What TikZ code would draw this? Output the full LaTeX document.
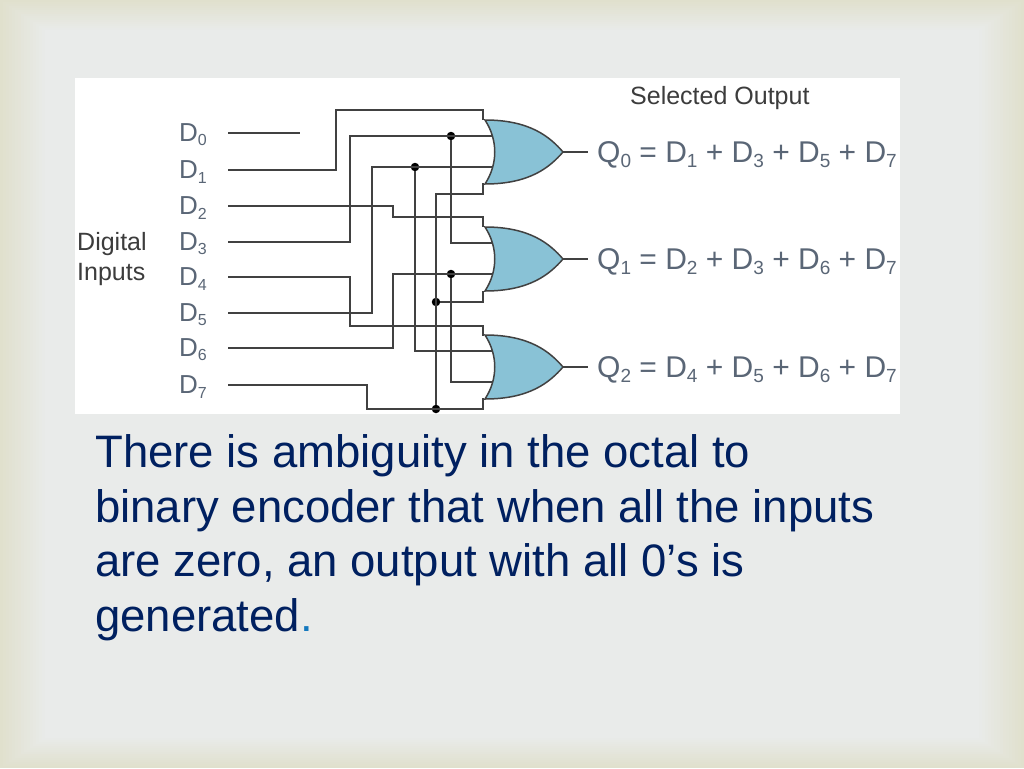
\documentclass[tikz,border=0pt]{standalone}
\usepackage{fontspec}
\setmainfont{Liberation Sans}
\usepackage{tikz}
\usetikzlibrary{positioning}
\usetikzlibrary{calc}
\definecolor{slideink}{RGB}{0,32,96}
\definecolor{slidedot}{RGB}{20,120,190}
\definecolor{wireink}{RGB}{65,65,65}
\definecolor{labelink}{RGB}{90,102,118}
\definecolor{sideink}{RGB}{60,60,60}
\definecolor{gatefill}{RGB}{137,194,214}
\definecolor{edgeband}{RGB}{224,224,205}
\definecolor{slideback}{RGB}{233,235,234}
\tikzset{
  wire/.style={draw=wireink, line width=2pt},
  gatebody/.style={draw=wireink, line width=1.5pt, fill=gatefill},
  dotnode/.style={circle, fill=black, inner sep=0pt, minimum size=8.5pt},
  inlabel/.style={text=labelink, font=\fontsize{26}{26}\selectfont, inner sep=0pt, anchor=west},
  outlabel/.style={text=labelink, font=\fontsize{30}{30}\selectfont, inner ysep=0pt, inner xsep=9pt, anchor=west},
  sidelabel/.style={text=sideink, font=\fontsize{25}{25}\selectfont, inner sep=0pt, anchor=west},
  bodytext/.style={text=slideink, font=\fontsize{45.5}{55}\selectfont, inner sep=0pt, anchor=west}
}
\newcommand{\orgate}[2]{% #1 name, #2 top y
  \draw[gatebody] (485,#2) .. controls (530,#2) and (550,#2+17) .. (563,#2+32)
    .. controls (550,#2+47) and (530,#2+64) .. (485,#2+64)
    .. controls (498,#2+44) and (498,#2+20) .. (485,#2) -- cycle;
  \coordinate (#1) at (563,#2+32);
}
\newcommand{\insub}[1]{\raisebox{-0.3ex}{\fontsize{16}{16}\selectfont #1}}
\newcommand{\outsub}[1]{\raisebox{-0.3ex}{\fontsize{19}{19}\selectfont #1}}
\begin{document}
\begin{tikzpicture}[x=1pt,y=-1pt]
  \useasboundingbox (0,0) rectangle (1024,768);
  % slide border fading inwards
  \foreach \i [evaluate=\i as \p using {\i*100/15}] in {0,...,15}{
    \fill[slideback!\p!edgeband] ({\i*3},{\i*2}) rectangle ({1024-\i*3},{768-\i*2});
  }
  \fill[white] (75,78) rectangle (900,414);

  % inputs
  \foreach \name/\y/\n in {d0/133/0,d1/170/1,d2/206/2,d3/242/3,d4/277/4,d5/313/5,d6/348/6,d7/385/7}{
    \node[inlabel] (l\name) at (179,\y+2) {D\insub{\n}};
    \coordinate (\name) at (228,\y);
  }
  \coordinate (d0e) at (300,133);
  \draw[wire] (d0) -- (d0e);

  % junctions
  \node[dotnode] (j1) at (451,136) {};
  \node[dotnode] (j2) at (415,167) {};
  \node[dotnode] (j3) at (451,274) {};
  \node[dotnode] (j4) at (436,302) {};
  \node[dotnode] (j5) at (436,409) {};

  % wires
  \draw[wire] (d1) -| (336,110) -| (483,120);
  \draw[wire] (d3) -| (350,136) -- (492,136);
  \draw[wire] (d5) -| (372,167) -- (492,167);
  \draw[wire] (d7) -| (367,409) -- (483,409) -- (483,398);
  \draw[wire] (d2) -| (393,217) -| (483,227);
  \draw[wire] (d6) -| (393,274) -- (492,274);
  \draw[wire] (d4) -| (350,326) -| (483,336);
  \draw[wire] (j1) |- (492,243);
  \draw[wire] (j2) |- (492,351);
  \draw[wire] (j3) |- (492,382);
  \draw[wire] (j5) |- (483,194) -- (483,183);
  \draw[wire] (j4) -- (483,302) -- (483,291);

  % gates
  \orgate{g0}{120}
  \orgate{g1}{227}
  \orgate{g2}{335}

  % outputs
  \node[outlabel] (q0) at (588,155) {Q\outsub{0} = D\outsub{1} + D\outsub{3} + D\outsub{5} + D\outsub{7}};
  \node[outlabel] (q1) at (588,262) {Q\outsub{1} = D\outsub{2} + D\outsub{3} + D\outsub{6} + D\outsub{7}};
  \node[outlabel] (q2) at (588,370) {Q\outsub{2} = D\outsub{4} + D\outsub{5} + D\outsub{6} + D\outsub{7}};
  \draw[wire] (g0) -- (g0-|q0.west);
  \draw[wire] (g1) -- (g1-|q1.west);
  \draw[wire] (g2) -- (g2-|q2.west);

  \node[sidelabel] (sel) at (630,98) {Selected Output};
  \node[sidelabel] (dig) at (77,244) {Digital};
  \node[sidelabel] (inp) at (77,274) {Inputs};

  % slide text
  \node[bodytext] (t1) at (95,456) {There is ambiguity in the octal to};
  \node[bodytext] (t2) at (95,511) {binary encoder that when all the inputs};
  \node[bodytext] (t3) at (95,565) {are zero, an output with all 0’s is};
  \node[bodytext] (t4) at (95,620) {generated\textcolor{slidedot}{.}};
\end{tikzpicture}
\end{document}
